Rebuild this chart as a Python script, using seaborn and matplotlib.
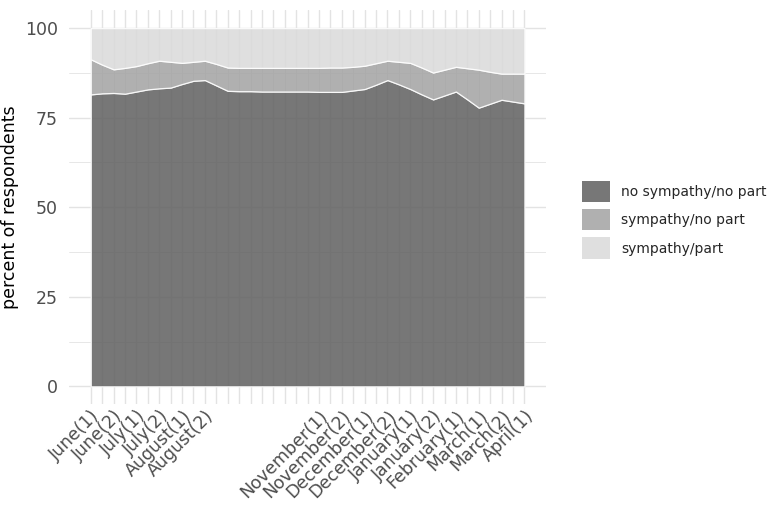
import numpy as np
import seaborn as sns
import matplotlib.pyplot as plt
import matplotlib.transforms as mtransforms
from matplotlib.patches import Patch

no_sym_no_part = [81.5, 81.8, 81.9, 81.7, 82.3, 82.9, 83.2, 83.4, 84.4, 85.3, 85.5, 84.0,
                  82.5, 82.4, 82.4, 82.3, 82.3, 82.3, 82.3, 82.3, 82.2, 82.2, 82.2, 82.6,
                  83.0, 84.2, 85.5, 84.3, 83.0, 81.5, 80.1, 81.2, 82.3, 80.1, 77.8, 78.9,
                  80.0, 79.5, 79.0]
top_of_sympathy = [91.3, 89.8, 88.5, 88.9, 89.4, 90.2, 90.9, 90.6, 90.3, 90.6, 90.9, 90.0,
                   89.0, 88.9, 88.9, 88.9, 88.9, 88.9, 88.9, 88.9, 88.9, 89.0, 89.0, 89.2,
                   89.5, 90.2, 90.9, 90.6, 90.3, 89.0, 87.6, 88.4, 89.2, 88.8, 88.4, 87.8,
                   87.3, 87.3, 87.3]
sym_no_part = [t - b for t, b in zip(top_of_sympathy, no_sym_no_part)]
sym_part = [100 - t for t in top_of_sympathy]

tick_labels = {0: "June(1)", 2: "June(2)", 4: "July(1)", 6: "July(2)", 8: "August(1)",
               10: "August(2)", 20: "November(1)", 22: "November(2)", 24: "December(1)",
               26: "December(2)", 28: "January(1)", 30: "January(2)", 32: "February(1)",
               34: "March(1)", 36: "March(2)", 38: "April(1)"}
series_names = ["no sympathy/no part", "sympathy/no part", "sympathy/part"]
colors = ["#5f5f5f", "#a3a3a3", "#dadada"]

sns.set_theme(style="whitegrid")
plt.rcParams['font.family'] = ['DejaVu Sans']

fig = plt.figure(figsize=(7.68, 5.11), dpi=100)
ax = fig.add_axes([0.09, 0.209, 0.621, 0.771])
x = np.arange(len(no_sym_no_part))
ax.stackplot(x, no_sym_no_part, sym_no_part, sym_part, colors=colors, alpha=0.85,
             edgecolor="white", linewidth=0.9, zorder=2)

ax.set_xlim(-1.9, 39.9)
ax.set_ylim(-5, 105)
ax.set_xticks(x)
ax.set_xticklabels([tick_labels.get(i, "") for i in x], rotation=45, ha="right",
                   rotation_mode="anchor", fontsize=12.5, color="#4d4d4d")
offset = mtransforms.ScaledTranslation(24 / 100, -24 / 100, fig.dpi_scale_trans)
for lab in ax.get_xticklabels():
    lab.set_transform(lab.get_transform() + offset)
ax.set_yticks([0, 25, 50, 75, 100])
ax.set_yticks([12.5, 37.5, 62.5, 87.5], minor=True)
ax.tick_params(axis="y", labelsize=12.5, colors="#4d4d4d", pad=2)
ax.tick_params(axis="x", pad=2, length=0)
ax.grid(True, which="major", color="#e3e3e3", linewidth=1.0)
ax.grid(True, which="minor", axis="y", color="#e3e3e3", linewidth=0.6)
ax.set_axisbelow(True)
for s in ax.spines.values():
    s.set_visible(False)
ax.set_ylabel("percent of respondents", fontsize=12.5, color="black", labelpad=4)
ax.set_xlabel("")

handles = [Patch(facecolor=c, alpha=0.85, edgecolor="none") for c in colors]
fig.legend(handles, series_names, loc="center left", bbox_to_anchor=(0.742, 0.57),
           frameon=False, fontsize=10, handlelength=2.0, handleheight=2.0,
           labelspacing=0.5)

fig.savefig("out.png", dpi=100)
